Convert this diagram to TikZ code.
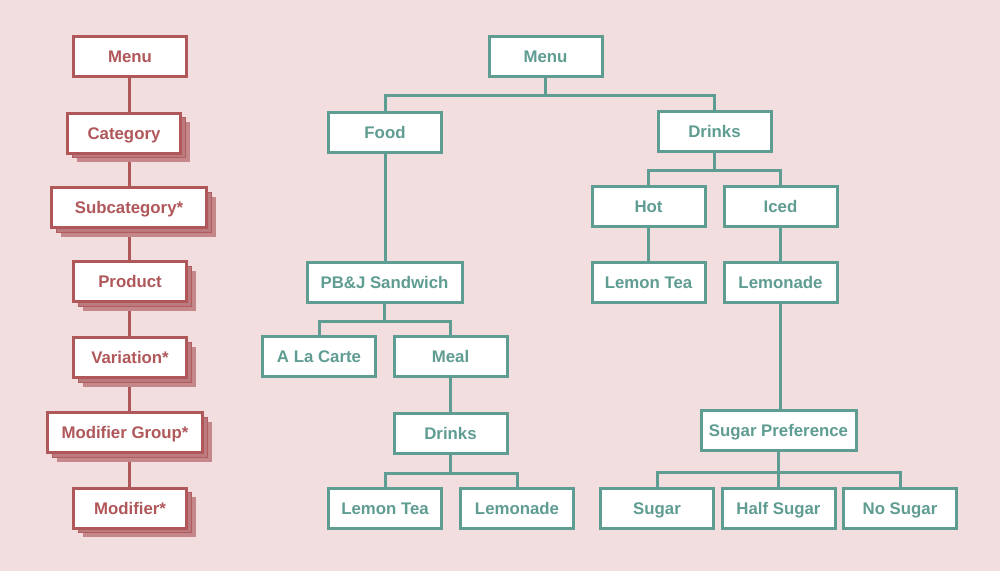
\documentclass[tikz,border=0pt]{standalone}
\usepackage{fontspec}
\setmainfont{Liberation Sans}
\usetikzlibrary{shadows}
\definecolor{bg}{HTML}{F2DEDE}
\definecolor{redc}{HTML}{B0575A}
\definecolor{tealc}{HTML}{5F9C92}
\definecolor{shadA}{HTML}{BB7A7D}
\definecolor{shadB}{HTML}{C4888A}
\tikzset{
  base/.style={rectangle, fill=white, line width=2.25pt, inner sep=0pt,
    minimum height=30pt, text height=9.4pt, text depth=0.3pt,
    font=\fontsize{12.6}{14}\selectfont\bfseries, anchor=center},
  narrow/.style={minimum width=84.75pt},
  wide/.style={minimum width=116.25pt},
  rbox/.style={base, draw=redc, text=redc},
  rshad/.style={rbox,
    general shadow={fill=shadB, shadow xshift=6.75pt, shadow yshift=-6.75pt},
    general shadow={fill=shadA, draw=redc!85!shadA, line width=0.7pt, shadow xshift=3.4pt, shadow yshift=-3.4pt}},
  tbox/.style={base, draw=tealc, text=tealc},
  rline/.style={draw=redc, line width=2.25pt},
  tline/.style={draw=tealc, line width=2.25pt},
}
\begin{document}
\begin{tikzpicture}[x=0.75pt, y=-0.75pt]
\fill[bg] (0,0) rectangle (1000,571);
\useasboundingbox (0,0) rectangle (1000,571);

% left column
\coordinate (ltop) at (129,56);
\coordinate (lbot) at (129,508);
\draw[rline] (ltop) -- (lbot);
\node[rbox, narrow] (lmenu) at (130,56) {Menu};
\node[rshad, narrow] (lcat) at (124,133) {Category};
\node[rshad, wide] (lsub) at (129,207.5) {Subcategory*};
\node[rshad, narrow] (lprod) at (130,281.5) {Product};
\node[rshad, narrow] (lvar) at (130,357.5) {Variation*};
\node[rshad, wide] (lmg) at (125,432.5) {Modifier Group*};
\node[rshad, narrow] (lmod) at (130,508) {Modifier*};

% right tree nodes
\node[tbox, narrow] (menu) at (545.5,56) {Menu};
\node[tbox, narrow] (food) at (385,132) {Food};
\node[tbox, narrow] (drinks) at (714.5,131.5) {Drinks};
\node[tbox, narrow] (hot) at (648.5,206) {Hot};
\node[tbox, narrow] (iced) at (780.5,206) {Iced};
\node[tbox, narrow] (ltea) at (648.5,282) {Lemon Tea};
\node[tbox, narrow] (lade) at (780.5,282) {Lemonade};
\node[tbox, wide] (pbj) at (384.5,282.5) {PB\&J Sandwich};
\node[tbox, narrow] (alc) at (319,356.5) {A La Carte};
\node[tbox, narrow] (meal) at (450.5,356.5) {Meal};
\node[tbox, narrow] (drinks2) at (450.5,433) {Drinks};
\node[tbox, narrow] (ltea2) at (385,508) {Lemon Tea};
\node[tbox, narrow] (lade2) at (517,508) {Lemonade};
\node[tbox, wide] (sugp) at (778.5,430.5) {Sugar Preference};
\node[tbox, narrow] (sugar) at (657,508) {Sugar};
\node[tbox, narrow] (half) at (778.5,508) {Half Sugar};
\node[tbox, narrow] (nosug) at (900,508) {No Sugar};

% connectors
\coordinate (b1) at (545.5,95);
\draw[tline] (menu.south) -- (b1);
\draw[tline] (food.north) |- (b1) -| (drinks.north);
\draw[tline] (food.south) -- (food.south |- pbj.north);
\coordinate (b2) at (714.5,170);
\draw[tline] (drinks.south) -- (b2);
\draw[tline] (hot.north) |- (b2) -| (iced.north);
\draw[tline] (hot.south) -- (ltea.north);
\draw[tline] (iced.south) -- (lade.north);
\draw[tline] (lade.south) -- (lade.south |- sugp.north);
\coordinate (b3) at (384.5,321);
\draw[tline] (pbj.south) -- (b3);
\draw[tline] (alc.north) |- (b3) -| (meal.north);
\draw[tline] (meal.south) -- (drinks2.north);
\coordinate (b4) at (450.5,473);
\draw[tline] (drinks2.south) -- (b4);
\draw[tline] (ltea2.north) |- (b4) -| (lade2.north);
\coordinate (b5) at (778.5,472);
\draw[tline] (sugp.south) -- (b5);
\draw[tline] (sugar.north) |- (b5) -| (nosug.north);
\draw[tline] (b5) -- (half.north);
\end{tikzpicture}
\end{document}
